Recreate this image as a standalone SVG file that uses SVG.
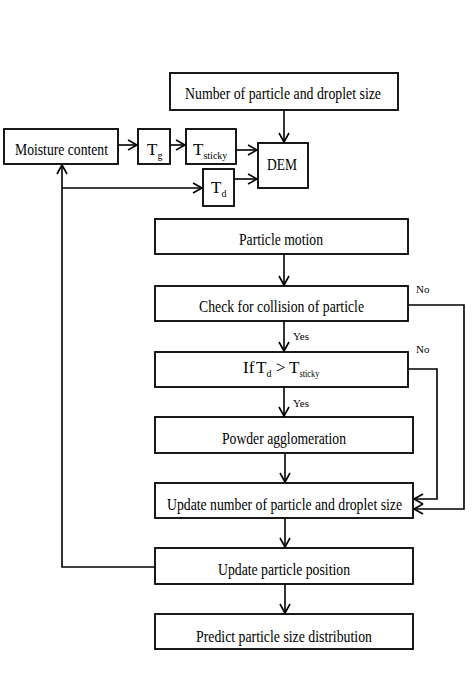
<svg xmlns="http://www.w3.org/2000/svg" width="474" height="685" viewBox="0 0 474 685">
<defs>
<marker id="arr" markerUnits="userSpaceOnUse" markerWidth="12" markerHeight="12" refX="10" refY="6" orient="auto">
<path d="M1,1 L10,6 L1,11" fill="none" stroke="#000" stroke-width="1.6"/>
</marker>
<style>
.b{fill:#fff;stroke:#000;stroke-width:1.8}
.c{fill:none;stroke:#000;stroke-width:1.6}
text{font-family:"Liberation Serif","Times New Roman",serif;fill:#000}
.t{font-size:17px;text-anchor:middle}
.s{font-size:10px}
.l{font-size:11px}
</style>
</defs>
<rect width="474" height="685" fill="#fff"/>
<g id="connectors">
<path class="c" d="M284,110 V142" marker-end="url(#arr)"/>
<path class="c" d="M118,145 H137" marker-end="url(#arr)"/>
<path class="c" d="M170,145 H185" marker-end="url(#arr)"/>
<path class="c" d="M236,150 H257" marker-end="url(#arr)"/>
<path class="c" d="M234,179 H257" marker-end="url(#arr)"/>
<path class="c" d="M155,567 H62 V165" marker-end="url(#arr)"/>
<path class="c" d="M62,188 H202" marker-end="url(#arr)"/>
<path class="c" d="M284,254 V285" marker-end="url(#arr)"/>
<path class="c" d="M284,321 V351" marker-end="url(#arr)"/>
<path class="c" d="M284,387 V416" marker-end="url(#arr)"/>
<path class="c" d="M285,453 V482" marker-end="url(#arr)"/>
<path class="c" d="M285,518 V547" marker-end="url(#arr)"/>
<path class="c" d="M285,584 V613" marker-end="url(#arr)"/>
<path class="c" d="M408,305 H464 V509 H414" marker-end="url(#arr)"/>
<path class="c" d="M408,369 H437 V499 H414" marker-end="url(#arr)"/>
<text class="l" x="416" y="293">No</text>
<text class="l" x="416" y="353">No</text>
<text class="l" x="293" y="340">Yes</text>
<text class="l" x="293" y="407">Yes</text>
</g>
<g id="n-number">
<rect class="b" x="170" y="73" width="228" height="37"/>
<text class="t" x="283" y="99" textLength="196" lengthAdjust="spacingAndGlyphs">Number of particle and droplet size</text>
</g>
<g id="n-moisture">
<rect class="b" x="4" y="129" width="114" height="35"/>
<text class="t" x="61.5" y="155" textLength="93" lengthAdjust="spacingAndGlyphs">Moisture content</text>
</g>
<g id="n-tg">
<rect class="b" x="138" y="129" width="32" height="35"/>
<text x="147" y="155" style="font-size:17px">T<tspan class="s" dy="4">g</tspan></text>
</g>
<g id="n-tsticky">
<rect class="b" x="186" y="129" width="50" height="35"/>
<text x="193" y="155" style="font-size:17px">T<tspan class="s" dy="4" textLength="24" lengthAdjust="spacingAndGlyphs">sticky</tspan></text>
</g>
<g id="n-td">
<rect class="b" x="203" y="169" width="31" height="37"/>
<text x="211" y="193" style="font-size:17px">T<tspan class="s" dy="4">d</tspan></text>
</g>
<g id="n-dem">
<rect class="b" x="258" y="143" width="50" height="45"/>
<text class="t" x="282" y="170" textLength="30" lengthAdjust="spacingAndGlyphs">DEM</text>
</g>
<g id="n-motion">
<rect class="b" x="155" y="219" width="253" height="35"/>
<text class="t" x="281" y="245" textLength="84" lengthAdjust="spacingAndGlyphs">Particle motion</text>
</g>
<g id="n-check">
<rect class="b" x="155" y="286" width="253" height="35"/>
<text class="t" x="281.5" y="312" textLength="165" lengthAdjust="spacingAndGlyphs">Check for collision of particle</text>
</g>
<g id="n-if">
<rect class="b" x="155" y="352" width="253" height="35"/>
<text x="243" y="373" style="font-size:17px">If</text>
<text x="256" y="373" style="font-size:17px">T<tspan class="s" dy="4">d</tspan></text>
<text x="276" y="373" style="font-size:17px">&gt;</text>
<text x="289" y="373" style="font-size:17px">T<tspan class="s" dy="4" textLength="20" lengthAdjust="spacingAndGlyphs">sticky</tspan></text>
</g>
<g id="n-powder">
<rect class="b" x="155" y="417" width="258" height="36"/>
<text class="t" x="284" y="444" textLength="124" lengthAdjust="spacingAndGlyphs">Powder agglomeration</text>
</g>
<g id="n-update-num">
<rect class="b" x="155" y="483" width="258" height="35"/>
<text class="t" x="284.5" y="510" textLength="235" lengthAdjust="spacingAndGlyphs">Update number of particle and droplet size</text>
</g>
<g id="n-update-pos">
<rect class="b" x="155" y="548" width="258" height="36"/>
<text class="t" x="284" y="575" textLength="132" lengthAdjust="spacingAndGlyphs">Update particle position</text>
</g>
<g id="n-predict">
<rect class="b" x="155" y="614" width="258" height="35"/>
<text class="t" x="284" y="642" textLength="176" lengthAdjust="spacingAndGlyphs">Predict particle size distribution</text>
</g>
</svg>
